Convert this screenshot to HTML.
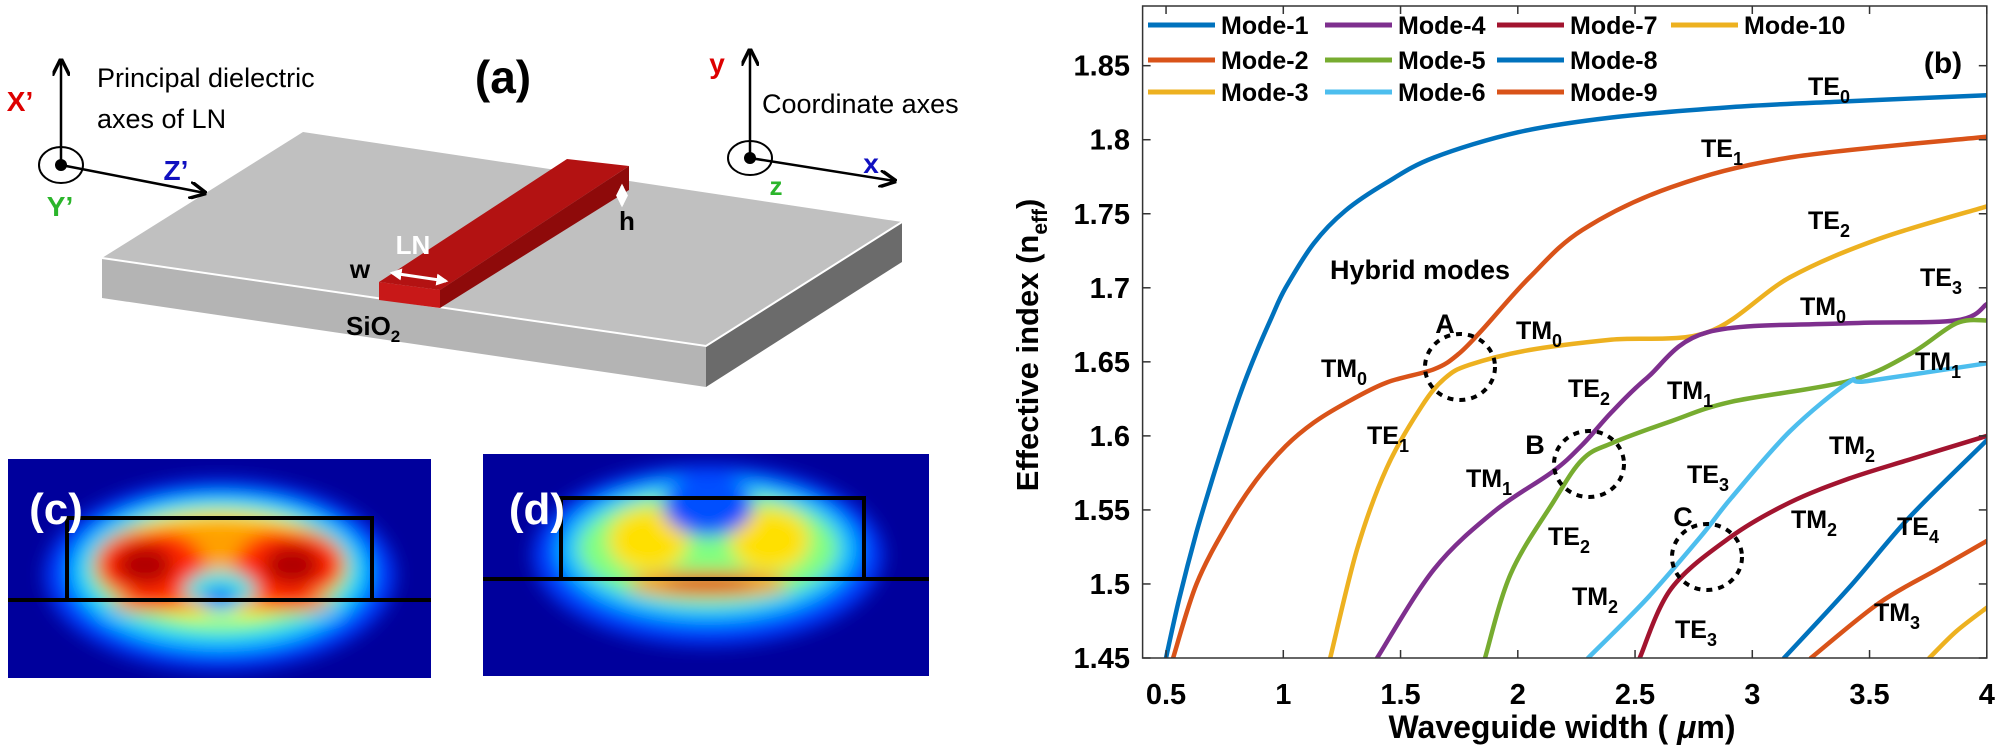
<!DOCTYPE html>
<html><head><meta charset="utf-8"><style>
html,body{margin:0;padding:0;background:#fff;}
svg{display:block;font-family:"Liberation Sans",sans-serif;}
.b{font-weight:bold;}
</style></head><body>
<svg id="fig" width="2007" height="750" viewBox="0 0 2007 750">
<defs>
 <filter id="blur8"><feGaussianBlur stdDeviation="9"/></filter>
 <clipPath id="clipc"><rect x="8" y="459" width="423" height="219"/></clipPath>
 <clipPath id="clipd"><rect x="483" y="454" width="446" height="222"/></clipPath>
 <clipPath id="plotclip"><rect x="1142" y="6" width="845" height="652"/></clipPath>
 <marker id="arr" viewBox="0 0 10 10" refX="9" refY="5" markerWidth="7" markerHeight="7" orient="auto"><path d="M0,0 L10,5 L0,10" fill="none" stroke="#000" stroke-width="2"/></marker>
 <marker id="warr" viewBox="0 0 10 10" refX="8" refY="5" markerWidth="4" markerHeight="4" orient="auto-start-reverse"><path d="M0,0 L10,5 L0,10 z" fill="#fff"/></marker>
</defs>

<g>
 <polygon points="303,132 902,222 706,346 102,258" fill="#c0c0c0"/>
 <polygon points="102,258 706,346 706,387 102,298" fill="#b4b4b4"/>
 <polygon points="706,346 902,222 902,262 706,387" fill="#6b6b6b"/>
 <polyline points="102,258 706,346 902,222" fill="none" stroke="#fff" stroke-width="2"/>
 <polygon points="379,282 567,159 629,166 440,290" fill="#b31212"/>
 <polygon points="440,290 629,166 629,190 440,308" fill="#8e0a0a"/>
 <polygon points="379,282 440,290 440,308 379,300" fill="#c81818"/>
 <line x1="392" y1="273" x2="446" y2="281" stroke="#fff" stroke-width="3" marker-start="url(#warr)" marker-end="url(#warr)"/>
 <line x1="622" y1="186" x2="622" y2="205" stroke="#fff" stroke-width="3" marker-start="url(#warr)" marker-end="url(#warr)"/>
 <text x="413" y="254" text-anchor="middle" font-size="26" fill="#fff" class="b">LN</text>
 <text x="360" y="278" text-anchor="middle" font-size="26" class="b">w</text>
 <text x="627" y="230" text-anchor="middle" font-size="26" class="b">h</text>
 <text x="346" y="335" font-size="26" class="b">SiO<tspan dy="7" font-size="17">2</tspan></text>
 <text x="503" y="93" text-anchor="middle" font-size="46" class="b">(a)</text>
 <line x1="61" y1="165" x2="61" y2="60" stroke="#000" stroke-width="2.5" marker-end="url(#arr)"/>
 <line x1="61" y1="165" x2="205" y2="193" stroke="#000" stroke-width="2.5" marker-end="url(#arr)"/>
 <ellipse cx="61" cy="165" rx="22" ry="18" fill="none" stroke="#000" stroke-width="2"/>
 <circle cx="61" cy="165" r="6" fill="#000"/>
 <text x="20" y="111" text-anchor="middle" font-size="28" fill="#d00" class="b">X’</text>
 <text x="176" y="180" text-anchor="middle" font-size="28" fill="#1010c0" class="b">Z’</text>
 <text x="60" y="216" text-anchor="middle" font-size="28" fill="#2bb52b" class="b">Y’</text>
 <text x="97" y="87" font-size="27">Principal dielectric</text>
 <text x="97" y="128" font-size="27">axes of LN</text>
 <line x1="750" y1="158" x2="750" y2="50" stroke="#000" stroke-width="2.5" marker-end="url(#arr)"/>
 <line x1="750" y1="158" x2="895" y2="181" stroke="#000" stroke-width="2.5" marker-end="url(#arr)"/>
 <ellipse cx="750" cy="158" rx="22" ry="17" fill="none" stroke="#000" stroke-width="2"/>
 <circle cx="750" cy="158" r="6" fill="#000"/>
 <text x="717" y="73" text-anchor="middle" font-size="28" fill="#d00" class="b">y</text>
 <text x="871" y="173" text-anchor="middle" font-size="28" fill="#1010c0" class="b">x</text>
 <text x="776" y="195" text-anchor="middle" font-size="26" fill="#2bb52b" class="b">z</text>
 <text x="762" y="113" font-size="27">Coordinate axes</text>
</g>

<g clip-path="url(#clipc)">
 <rect x="8" y="459" width="423" height="219" fill="#00009c"/>
 <g filter="url(#blur8)">
  <ellipse cx="220" cy="575" rx="175" ry="95" fill="#0040ff"/>
  <ellipse cx="220" cy="572" rx="150" ry="78" fill="#00c8ff"/>
  <ellipse cx="220" cy="570" rx="132" ry="64" fill="#70ff90"/>
  <ellipse cx="220" cy="566" rx="120" ry="54" fill="#ffff00"/>
  <ellipse cx="220" cy="562" rx="108" ry="44" fill="#ffa000"/>
  <ellipse cx="150" cy="565" rx="55" ry="36" fill="#ff2800"/>
  <ellipse cx="290" cy="565" rx="55" ry="36" fill="#ff2800"/>
  <ellipse cx="145" cy="565" rx="28" ry="20" fill="#b00000"/>
  <ellipse cx="292" cy="565" rx="28" ry="20" fill="#b00000"/>
  <ellipse cx="220" cy="592" rx="36" ry="22" fill="#40e8e0"/>
  <ellipse cx="220" cy="597" rx="18" ry="10" fill="#1070ff"/>
  <ellipse cx="160" cy="605" rx="50" ry="6" fill="#ff4000"/>
  <ellipse cx="285" cy="605" rx="50" ry="6" fill="#ff4000"/>
 </g>
 <rect x="67" y="518" width="305" height="82" fill="none" stroke="#000" stroke-width="4"/>
 <line x1="8" y1="600" x2="431" y2="600" stroke="#000" stroke-width="4"/>
 <text x="56" y="524" text-anchor="middle" font-size="44" fill="#fff" class="b">(c)</text>
</g>

<g clip-path="url(#clipd)">
 <rect x="483" y="454" width="446" height="222" fill="#00009c"/>
 <g filter="url(#blur8)">
  <ellipse cx="708" cy="555" rx="175" ry="90" fill="#0040ff"/>
  <ellipse cx="708" cy="550" rx="150" ry="72" fill="#00c0ff"/>
  <ellipse cx="708" cy="548" rx="130" ry="58" fill="#80ff80"/>
  <ellipse cx="648" cy="540" rx="40" ry="32" fill="#ffe000"/>
  <ellipse cx="770" cy="540" rx="40" ry="32" fill="#ffe000"/>
  <ellipse cx="708" cy="506" rx="45" ry="30" fill="#0050ff"/>
  <ellipse cx="708" cy="584" rx="80" ry="12" fill="#ff8000"/>
  <ellipse cx="708" cy="584" rx="45" ry="7" fill="#e01000"/>
 </g>
 <rect x="561" y="498" width="303" height="81" fill="none" stroke="#000" stroke-width="4"/>
 <line x1="483" y1="579" x2="929" y2="579" stroke="#000" stroke-width="4"/>
 <text x="537" y="524" text-anchor="middle" font-size="44" fill="#fff" class="b">(d)</text>
</g>

<g id="chart">
 <g id="curves" clip-path="url(#plotclip)"></g>
 <rect x="1142.6" y="6" width="844.2" height="652" fill="none" stroke="#333" stroke-width="1.5"/>
 <g id="ticks"></g>
 <g id="legend"></g>
 <text x="1943" y="73" text-anchor="middle" font-size="30" class="b">(b)</text>
 <text x="1562" y="738" text-anchor="middle" font-size="32" class="b">Waveguide width (  <tspan font-style="italic">μ</tspan>m)</text>
 <text transform="translate(1038,345) rotate(-90)" text-anchor="middle" font-size="31" class="b">Effective index (n<tspan dy="9" font-size="21">eff</tspan><tspan dy="-9">)</tspan></text>
 <g id="annot" font-size="25" class="b"></g>
</g>

<script>
const xTicks = [0.5, 1, 1.5, 2, 2.5, 3, 3.5, 4];
const xTickLabels = ["0.5", "1", "1.5", "2", "2.5", "3", "3.5", "4"];
const yTicks = [1.45, 1.5, 1.55, 1.6, 1.65, 1.7, 1.75, 1.8, 1.85];
const yTickLabels = ["1.45", "1.5", "1.55", "1.6", "1.65", "1.7", "1.75", "1.8", "1.85"];
const modeNames = ["Mode-1","Mode-2","Mode-3","Mode-4","Mode-5","Mode-6","Mode-7","Mode-8","Mode-9","Mode-10"];
const modeColors = ["#0072BD","#D95319","#EDB120","#7E2F8E","#77AC30","#4DBEEE","#A2142F","#0072BD","#D95319","#EDB120"];
const mode1X = [0.5,0.556,0.63,0.7,0.76,0.82,0.884,0.95,1.01,1.13,1.264,1.44,1.643,2.0,2.4,2.91,3.41,4.0];
const mode1Y = [1.45,1.49,1.535,1.572,1.602,1.630,1.656,1.680,1.700,1.730,1.752,1.771,1.788,1.805,1.815,1.822,1.826,1.83];
const mode2X = [0.53,0.63,0.76,0.884,1.01,1.13,1.264,1.44,1.643,1.745,1.845,2.05,2.275,2.655,3.16,4.0];
const mode2Y = [1.45,1.50,1.54,1.570,1.593,1.609,1.622,1.636,1.645,1.655,1.671,1.707,1.739,1.768,1.788,1.802];
const mode3X = [1.2,1.314,1.44,1.59,1.69,1.795,2.05,2.4,2.81,3.16,3.54,4.0];
const mode3Y = [1.45,1.523,1.578,1.62,1.639,1.648,1.658,1.665,1.67,1.707,1.733,1.755];
const mode4X = [1.4,1.643,1.9,2.15,2.275,2.4,2.55,2.81,3.41,3.87,4.0];
const mode4Y = [1.45,1.51,1.549,1.576,1.594,1.616,1.639,1.67,1.676,1.678,1.689];
const mode5X = [1.86,1.97,2.15,2.275,2.4,2.655,2.91,3.41,3.67,3.87,4.0];
const mode5Y = [1.45,1.507,1.555,1.584,1.595,1.61,1.623,1.637,1.655,1.676,1.678];
const mode6X = [2.3,2.55,2.78,2.91,3.16,3.41,3.49,4.0];
const mode6Y = [1.45,1.49,1.532,1.558,1.603,1.636,1.637,1.649];
const mode7X = [2.52,2.655,2.91,3.16,3.41,3.67,4.0];
const mode7Y = [1.45,1.497,1.532,1.555,1.571,1.584,1.6];
const mode8X = [3.135,3.41,3.67,4.0];
const mode8Y = [1.45,1.497,1.545,1.597];
const mode9X = [3.25,3.54,3.79,4.0];
const mode9Y = [1.45,1.487,1.51,1.529];
const mode10X = [3.755,3.87,4.0];
const mode10Y = [1.45,1.468,1.484];
const seriesX = [mode1X,mode2X,mode3X,mode4X,mode5X,mode6X,mode7X,mode8X,mode9X,mode10X];
const seriesY = [mode1Y,mode2Y,mode3Y,mode4Y,mode5Y,mode6Y,mode7Y,mode8Y,mode9Y,mode10Y];

const NS = "http://www.w3.org/2000/svg";
const X = v => 1142.6 + (v - 0.4) * 234.5;
const Y = v => 658 - (v - 1.45) * 1480.8;
function mk(tag, attrs, parent) {
  const e = document.createElementNS(NS, tag);
  for (const k in attrs) e.setAttribute(k, attrs[k]);
  parent.appendChild(e);
  return e;
}
function smoothPath(pts) {
  let d = "M" + pts[0][0].toFixed(1) + "," + pts[0][1].toFixed(1);
  for (let i = 0; i < pts.length - 1; i++) {
    const p0 = pts[Math.max(0, i - 1)], p1 = pts[i], p2 = pts[i + 1], p3 = pts[Math.min(pts.length - 1, i + 2)];
    const c1 = [p1[0] + (p2[0] - p0[0]) / 6, p1[1] + (p2[1] - p0[1]) / 6];
    const c2 = [p2[0] - (p3[0] - p1[0]) / 6, p2[1] - (p3[1] - p1[1]) / 6];
    d += " C" + c1[0].toFixed(1) + "," + c1[1].toFixed(1) + " " + c2[0].toFixed(1) + "," + c2[1].toFixed(1) + " " + p2[0].toFixed(1) + "," + p2[1].toFixed(1);
  }
  return d;
}
const curves = document.getElementById("curves");
for (let s = 0; s < seriesX.length; s++) {
  const pts = seriesX[s].map((x, i) => [X(x), Y(seriesY[s][i])]);
  const p = mk("path", {d: smoothPath(pts), fill: "none", stroke: modeColors[s], "stroke-width": 4.5, "stroke-linecap": "round"}, curves);
  
  
}
const ticks = document.getElementById("ticks");
xTicks.forEach((v, i) => {
  mk("line", {x1: X(v), x2: X(v), y1: 658, y2: 650, stroke: "#333", "stroke-width": 1.5}, ticks);
  mk("line", {x1: X(v), x2: X(v), y1: 6, y2: 14, stroke: "#333", "stroke-width": 1.5}, ticks);
  const t = mk("text", {x: X(v), y: 704, "text-anchor": "middle", "font-size": 29, "font-weight": "bold"}, ticks);
  t.textContent = xTickLabels[i];
  
  
});
yTicks.forEach((v, i) => {
  mk("line", {x1: 1142.6, x2: 1150.6, y1: Y(v), y2: Y(v), stroke: "#333", "stroke-width": 1.5}, ticks);
  mk("line", {x1: 1986.8, x2: 1978.8, y1: Y(v), y2: Y(v), stroke: "#333", "stroke-width": 1.5}, ticks);
  const t = mk("text", {x: 1130, y: Y(v) + 10, "text-anchor": "end", "font-size": 29, "font-weight": "bold"}, ticks);
  t.textContent = yTickLabels[i];
  
  
});
const legend = document.getElementById("legend");
const colX = [1148, 1325, 1497, 1671];
const rowY = [25, 60, 92];
const order = [[0,0],[1,0],[2,0],[0,1],[1,1],[2,1],[0,2],[1,2],[2,2],[0,3]];
modeNames.forEach((n, i) => {
  const [r, c] = order[i];
  const g = mk("g", {}, legend);
  
  
  mk("line", {x1: colX[c], x2: colX[c] + 67, y1: rowY[r], y2: rowY[r], stroke: modeColors[i], "stroke-width": 5}, g);
  const t = mk("text", {x: colX[c] + 73, y: rowY[r] + 9, "font-size": 25, "font-weight": "bold"}, g);
  t.textContent = n;
});
const annot = document.getElementById("annot");
const labels = [
 ["TE","0",1843,86],["TE","1",1736,148],["TE","2",1843,220],["TE","3",1955,277],["TM","0",1837,306],
 ["TM","0",1553,330],["TM","0",1358,368],["TM","1",1952,361],["TE","2",1603,388],["TM","1",1704,390],
 ["TE","1",1402,435],["TM","2",1866,445],["TM","1",1503,478],["TE","3",1722,474],["TM","2",1828,519],
 ["TE","4",1932,526],["TE","2",1583,536],["TM","2",1609,596],["TM","3",1911,612],["TE","3",1710,629]
];
labels.forEach(l => {
  const t = mk("text", {x: l[2] - 14, y: l[3] + 9, "text-anchor": "middle", "font-size": 25}, annot);
  
  
  const a = mk("tspan", {}, t);
  a.textContent = l[0];
  const b = mk("tspan", {dy: 8, "font-size": 18}, t);
  b.textContent = l[1];
});
[["Hybrid modes",1420,279],["A",1445,333],["B",1535,454],["C",1683,526]].forEach(l => {
  const t = mk("text", {x: l[1], y: l[2], "text-anchor": "middle", "font-size": 27}, annot);
  t.textContent = l[0];
  
  
});
[[1460,367],[1589,464],[1707,557]].forEach(c => {
  const e = mk("ellipse", {cx: c[0], cy: c[1], rx: 35, ry: 33, fill: "none", stroke: "#000", "stroke-width": 4, "stroke-dasharray": "6,6"}, annot);
  
  
});
</script>
</svg>
</body></html>
